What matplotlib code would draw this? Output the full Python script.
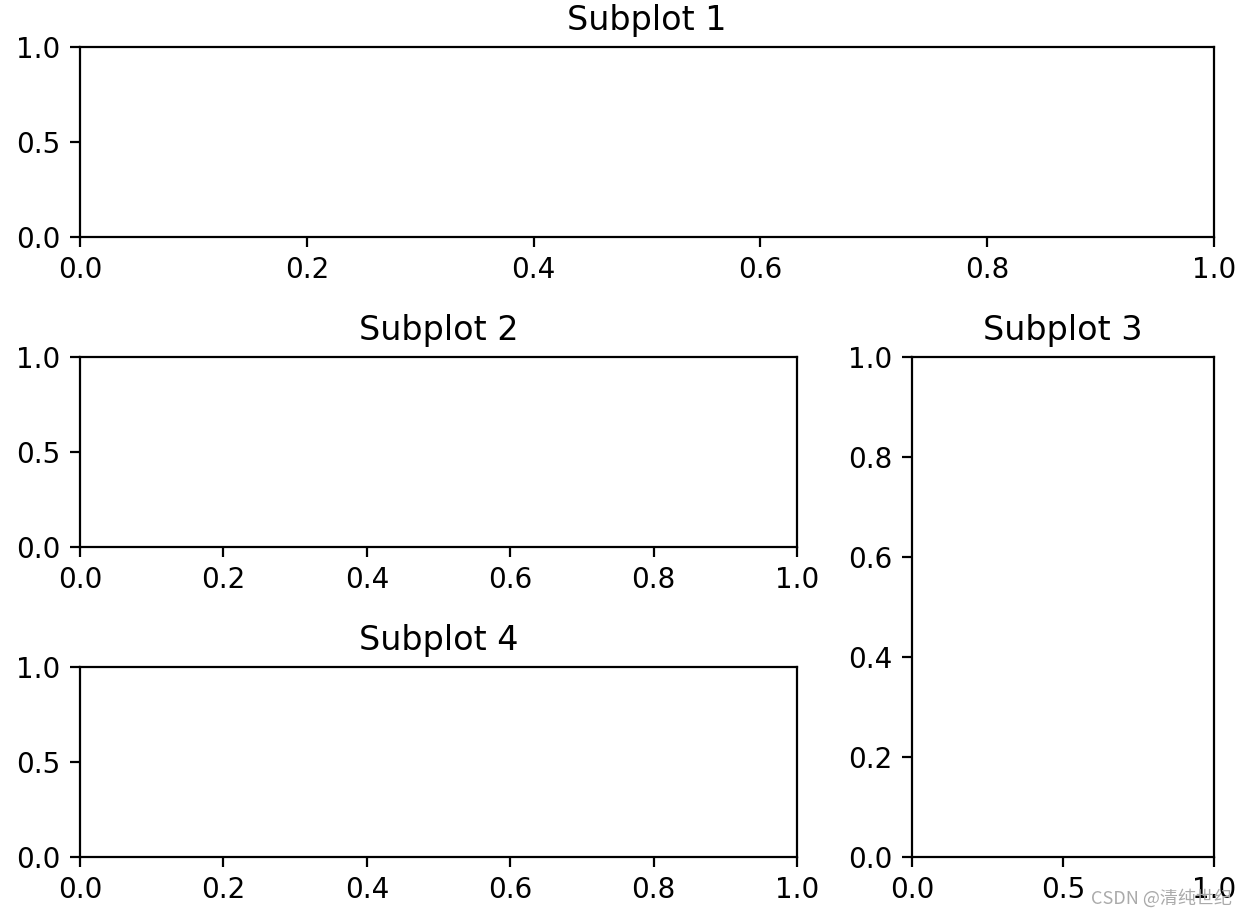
import matplotlib
matplotlib.use("Agg")
import matplotlib.pyplot as plt

titles = ["Subplot 1", "Subplot 2", "Subplot 3", "Subplot 4"]
watermark = "CSDN @清纯世纪"

W, H = 1249, 916
dpi = 200
fig = plt.figure(figsize=(W / dpi, H / dpi), dpi=dpi)

def box(l, t, r, b):
    return [l / W, (H - b) / H, (r - l) / W, (b - t) / H]

positions = [
    box(80, 47, 1214, 237),
    box(80, 357, 797, 547),
    box(912, 357, 1214, 857),
    box(80, 667, 797, 857),
]

for title, pos in zip(titles, positions):
    ax = fig.add_axes(pos)
    ax.set_title(title)

fig.text(1232 / W, 1 - 898 / H, watermark, ha="right", va="center",
         fontsize=6.5, color="#aaaaaa",
         family=["Noto Sans CJK SC", "DejaVu Sans"])

fig.savefig("out.png", dpi=dpi)
